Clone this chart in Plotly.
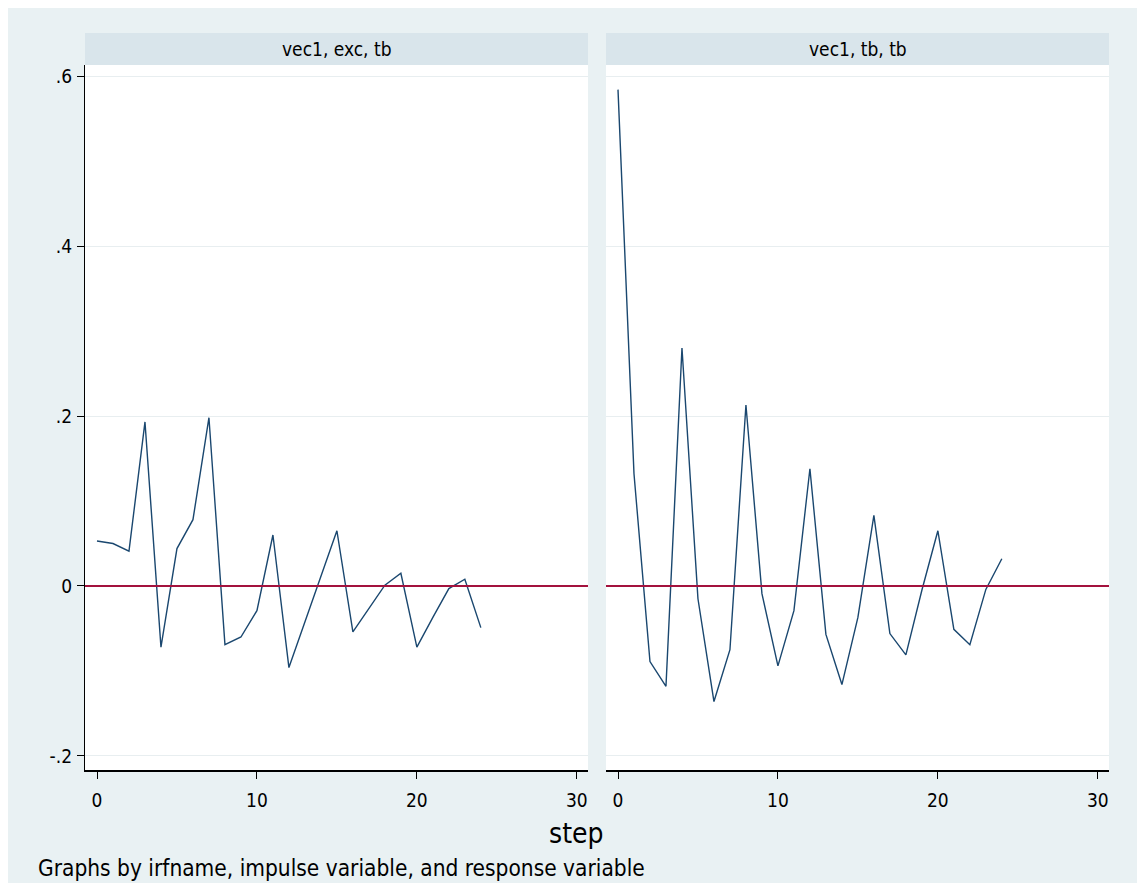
import plotly.graph_objects as go

# ---- data ----
steps = list(range(25))
exc_tb = [0.053, 0.050, 0.041, 0.193, -0.072, 0.044, 0.078, 0.198, -0.069, -0.060,
          -0.029, 0.060, -0.096, -0.042, 0.011, 0.065, -0.054, -0.026, 0.001, 0.015,
          -0.072, -0.037, -0.003, 0.008, -0.049]
tb_tb = [0.584, 0.132, -0.089, -0.118, 0.280, -0.015, -0.136, -0.075, 0.213, -0.009,
         -0.094, -0.029, 0.138, -0.057, -0.116, -0.037, 0.083, -0.056, -0.081, -0.005,
         0.065, -0.051, -0.069, -0.004, 0.032]
panel_titles = ["vec1, exc, tb", "vec1, tb, tb"]
ytick_vals = [-0.2, 0, 0.2, 0.4, 0.6]
ytick_text = ["-.2", "0", ".2", ".4", ".6"]
xtick_vals = [0, 10, 20, 30]
xtitle = "step"
note = "Graphs by irfname, impulse variable, and response variable"

# ---- style ----
FONT = "DejaVu Sans Condensed, DejaVu Sans, sans-serif"
BG = "#e9f1f3"
STRIP = "#d9e5eb"
GRID = "#e8eef0"
NAVY = "#1a476f"
RED = "#a3123d"

OFF = 8  # page body margin
W, H = 1145 - OFF, 894 - OFF
L, T = 85 - OFF, 33 - OFF
R, B = W - (1109 - OFF), H - (770 - OFF)
PW, PH = W - L - R, H - T - B


def px(xr):
    return (xr - OFF - L) / PW


def py(yr):
    return (H - B - (yr - OFF)) / PH


left_dom = [0, px(588)]
right_dom = [px(606), 1]
ytop = py(65)

fig = go.Figure()
fig.add_trace(go.Scatter(x=steps, y=exc_tb, mode="lines", xaxis="x", yaxis="y",
                         line=dict(color=NAVY, width=1.4), showlegend=False, hoverinfo="skip"))
fig.add_trace(go.Scatter(x=steps, y=tb_tb, mode="lines", xaxis="x2", yaxis="y2",
                         line=dict(color=NAVY, width=1.4), showlegend=False, hoverinfo="skip"))

xcommon = dict(range=[-0.75, 30.7], tickmode="array", tickvals=xtick_vals, ticks="outside",
               ticklen=7, tickwidth=1.3, tickcolor="black", showline=True, linecolor="black",
               linewidth=2, showgrid=False, zeroline=False,
               tickfont=dict(family=FONT, size=19, color="black"), ticklabelstandoff=5)
yrange = [-0.2165, 0.613]

fig.update_layout(
    width=W, height=H,
    margin=dict(l=L, r=R, t=T, b=B, pad=0),
    paper_bgcolor=BG, plot_bgcolor="white",
    font=dict(family=FONT, color="black"),
    xaxis=dict(domain=left_dom, anchor="y", **xcommon),
    xaxis2=dict(domain=right_dom, anchor="y2", **xcommon),
    yaxis=dict(domain=[0, ytop], anchor="x", range=yrange, tickmode="array",
               tickvals=ytick_vals, ticktext=ytick_text, ticks="outside", ticklen=7,
               tickwidth=1.2, tickcolor="black", showline=True, linecolor="black",
               linewidth=1.3, showgrid=True, gridcolor=GRID, gridwidth=1.3, zeroline=False,
               tickfont=dict(family=FONT, size=19, color="black"), ticklabelstandoff=1),
    yaxis2=dict(domain=[0, ytop], anchor="x2", range=yrange, tickmode="array",
                tickvals=ytick_vals, showticklabels=False, ticks="", showline=False,
                showgrid=True, gridcolor=GRID, gridwidth=1.3, zeroline=False),
)

shapes = []
# white outer border (right and bottom)
shapes += [
    dict(type="rect", xref="paper", yref="paper", x0=px(0), x1=px(1160), y0=py(883), y1=py(910),
         fillcolor="white", line=dict(width=0), layer="below"),
    dict(type="rect", xref="paper", yref="paper", x0=px(1141), x1=px(1160), y0=py(0), y1=py(910),
         fillcolor="white", line=dict(width=0), layer="below"),
]
# strip headers
for dom in (left_dom, right_dom):
    shapes.append(dict(type="rect", xref="paper", yref="paper", x0=dom[0], x1=dom[1],
                       y0=ytop, y1=1, fillcolor=STRIP, line=dict(width=0), layer="below"))
# zero reference lines
shapes.append(dict(type="line", xref="x domain", yref="y", x0=0, x1=1, y0=0, y1=0,
                   line=dict(color=RED, width=2.2), layer="above"))
shapes.append(dict(type="line", xref="x2 domain", yref="y2", x0=0, x1=1, y0=0, y1=0,
                   line=dict(color=RED, width=2.2), layer="above"))
fig.update_layout(shapes=shapes)

annotations = []
for dom, title in zip((left_dom, right_dom), panel_titles):
    annotations.append(dict(text=title, xref="paper", yref="paper",
                            x=(dom[0] + dom[1]) / 2, y=(ytop + 1) / 2, xanchor="center",
                            yanchor="middle", showarrow=False,
                            font=dict(family=FONT, size=19, color="black")))
annotations.append(dict(text=xtitle, xref="paper", yref="paper", x=px(576), y=py(833),
                        xanchor="center", yanchor="middle", showarrow=False,
                        font=dict(family=FONT, size=28, color="black")))
annotations.append(dict(text=note, xref="paper", yref="paper", x=px(36), y=py(868),
                        xanchor="left", yanchor="middle", showarrow=False,
                        font=dict(family=FONT, size=22.5, color="black")))
fig.update_layout(annotations=annotations)

fig.write_html("out.html")
